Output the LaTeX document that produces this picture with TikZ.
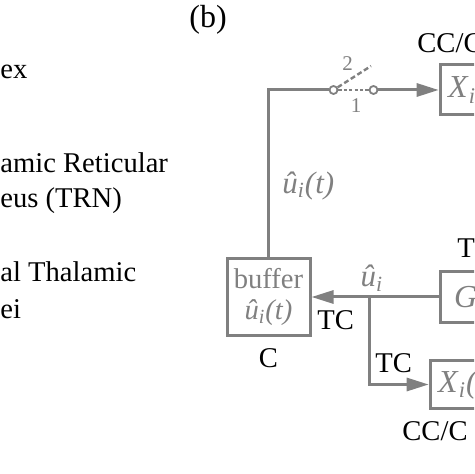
\documentclass[tikz,border=0pt]{standalone}
\usepackage{fontspec}
\setmainfont{Liberation Serif}
\usetikzlibrary{arrows.meta}
\usetikzlibrary{positioning}
\definecolor{mgray}{rgb}{0.5, 0.5, 0.5}
\tikzset{wire/.style = {mgray, line width=1.5pt},
         feed/.style = {wire, -{Triangle[length=11pt, width=6.5pt]}},
         block/.style = {draw=mgray, line width=1.5pt, text=mgray},
         contact/.style = {circle, draw=mgray, fill=white, line width=0.9pt,
                           minimum size=4pt, inner sep=0pt},
         lever/.style = {mgray, line width=1.2pt, dash pattern=on 2.5pt off 1.4pt},
         rest/.style = {mgray, line width=0.9pt, dash pattern=on 1.6pt off 1.1pt},
         tag/.style = {anchor=base west, inner sep=0pt},
         big/.style = {font=\fontsize{16}{19}\selectfont}}
\newcommand{\uhat}{\textit{û}\textsubscript{\textit{i}}}

\begin{document}
\begin{tikzpicture}[x=0.5pt, y=-0.5pt, font=\fontsize{14.3}{17.5}\selectfont]
    \useasboundingbox (0, 0) rectangle (474, 474);
    \clip (0, 0) rectangle (474, 474);

    % legend of panel (a), cut by the frame
    \node [tag] (cortex) at (0, 79) {ex};
    \node [tag] (trn1) at (0, 173) {amic Reticular};
    \node [tag] (trn2) at (0, 208) {eus (TRN)};
    \node [tag] (tn1) at (0, 282) {al Thalamic};
    \node [tag] (tn2) at (0, 318) {ei};
    \node [tag, big] (panel) at (189, 28) {(b)};

    % blocks
    \node [block, minimum width=41.5pt, minimum height=38.5pt, align=center,
           inner sep=0pt] (buf) at (268.5, 297) {buffer\\[-2pt]\uhat\textit{(t)}};
    \node [block, big, anchor=west, minimum height=25pt, text width=30pt, align=left,
           inner xsep=4pt] (xup) at (438.7, 90) {\textit{X}\textsubscript{\textit{i}}};
    \node [block, big, anchor=west, minimum height=25pt, text width=30pt, align=left,
           inner xsep=7pt] (gen) at (438.7, 297) {\textit{G}};
    \node [block, big, anchor=west, minimum height=24pt, text width=30pt, align=left,
           inner xsep=4pt] (xlo) at (428.7, 384.5) {\textit{X}\textsubscript{\textit{i}}\textit{(}};

    % switch
    \node [contact] (s1) at (333.5, 90) {};
    \node [contact] (s2) at (373.5, 90) {};
    \coordinate (lvr) at (371, 66);
    \draw [rest] (s1) -- (s2);
    \draw [lever] (s1) -- (lvr);
    \node [mgray, font=\fontsize{10.5}{12}\selectfont] (pos2) at (347.5, 64) {2};
    \node [mgray, font=\fontsize{10.5}{12}\selectfont] (pos1) at (356, 106) {1};

    % connectors
    \draw [wire] (buf.north) |- (s1);
    \draw [feed] (s2) -- (xup.west);
    \draw [feed] (gen.west) -- (buf.east);
    \coordinate (jn) at (369.7, 297);
    \draw [feed] (jn) |- (xlo.west);

    % labels
    \node [mgray, anchor=west, inner sep=0pt, font=\fontsize{15.5}{18}\selectfont]
        (uline) at (282, 186) {\uhat\textit{(t)}};
    \node [mgray, font=\fontsize{15.5}{18}\selectfont] (usig) at (372, 278) {\uhat};
    \node [tag] (tc1) at (317, 329) {TC};
    \node [tag] (tc2) at (375, 372) {TC};
    \node [anchor=base, inner sep=0pt] (cbuf) at (268.5, 367) {C};
    \node [tag] (ccup) at (417, 53) {CC/C};
    \node [tag] (cclo) at (402, 440) {CC/C};
    \node [tag] (tgen) at (457, 258) {T};
\end{tikzpicture}
\end{document}
